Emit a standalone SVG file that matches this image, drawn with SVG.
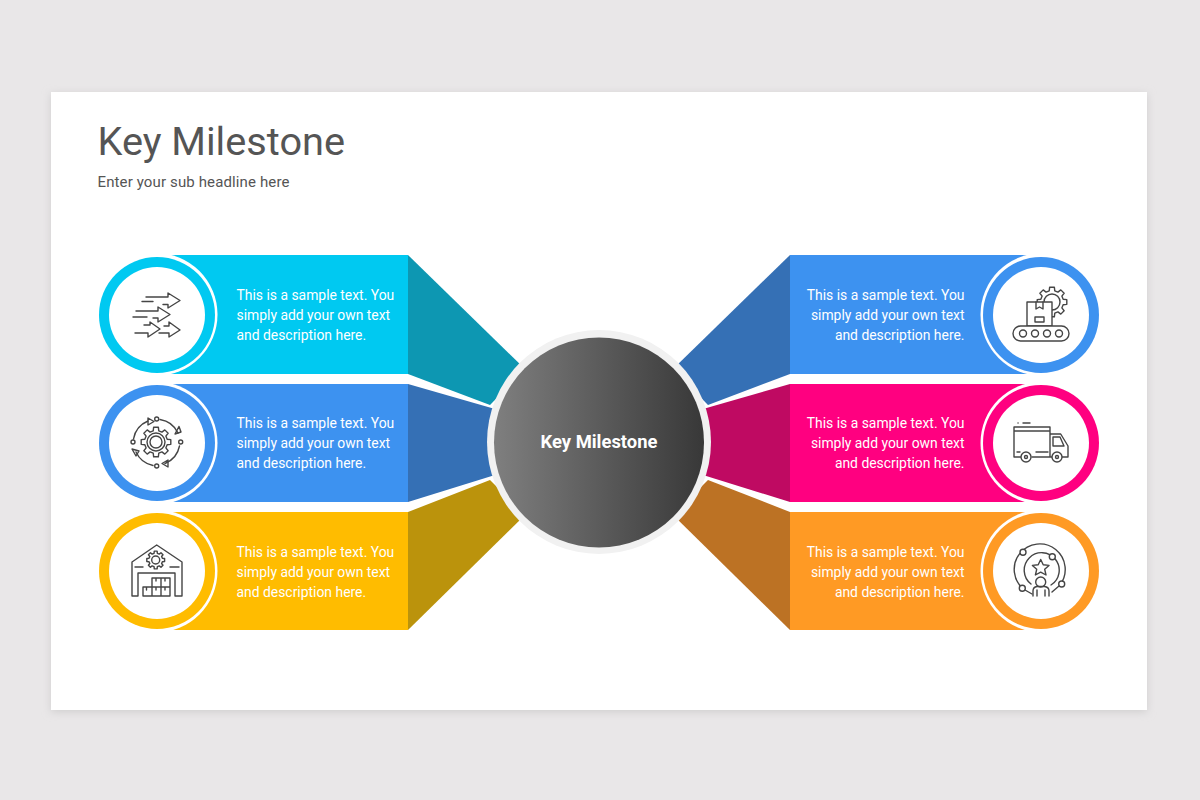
<svg xmlns="http://www.w3.org/2000/svg" width="1200" height="800" viewBox="0 0 1200 800">
<style>
text{font-family:Roboto,"Liberation Sans",sans-serif}
.b{fill:#fff;font-size:13.9px}
.r{text-anchor:end}
.i{fill:none;stroke:#454545;stroke-width:1.4;stroke-linejoin:round;stroke-linecap:round}
.w{fill:#fff}
.f{fill:#fff;stroke:#454545;stroke-width:1.4;stroke-linejoin:round}
</style>
<defs>
<linearGradient id="g" x1="0" x2="1" y1="0" y2="0"><stop offset="0" stop-color="#7f7f7f"/><stop offset="1" stop-color="#383838"/></linearGradient>
<filter id="s" x="-3%" y="-3%" width="106%" height="106%"><feGaussianBlur stdDeviation="4"/></filter>
<path id="gear" d="M11.16-2.78 14.8-2.35 14.8 2.35 11.16 2.78 9.86 5.93 12.13 8.8 8.8 12.13 5.93 9.86 2.78 11.16 2.35 14.8-2.35 14.8-2.78 11.16-5.93 9.86-8.8 12.13-12.13 8.8-9.86 5.93-11.16 2.78-14.8 2.35-14.8-2.35-11.16-2.78-9.86-5.93-12.13-8.8-8.8-12.13-5.93-9.86-2.78-11.16-2.35-14.8 2.35-14.8 2.78-11.16 5.93-9.86 8.8-12.13 12.13-8.8 9.86-5.93Z"/>
</defs>
<rect width="1200" height="800" fill="#e9e7e8"/>
<rect x="51" y="94" width="1096" height="618" fill="#cfcdce" filter="url(#s)"/>
<rect x="51" y="92" width="1096" height="618" fill="#fff"/>
<text x="97.500" y="155" font-size="39.700" fill="#555">Key Milestone</text>
<text x="97.500" y="187" font-size="15" letter-spacing=".13" fill="#555">Enter your sub headline here</text>

<g id="connectors">
<polygon points="408,255 525,369 490,405 408,374" fill="#0d97b2"/>
<polygon points="408,384 495,409 495,475 408,502" fill="#3570b5"/>
<polygon points="408,630 525,515 490,480 408,512" fill="#bb930c"/>
<polygon points="790,255 673,369 708,405 790,374" fill="#3570b5"/>
<polygon points="790,384 703,409 703,475 790,502" fill="#bf0a62"/>
<polygon points="790,630 673,515 708,480 790,512" fill="#bc7224"/>
</g>

<g id="node-1">
<rect x="170" y="255" width="238" height="119" fill="#00c9f1"/>
<circle cx="156" cy="314.500" r="61.500" class="w"/>
<circle cx="157" cy="315" r="58" fill="#00c9f1"/>
<circle cx="157" cy="315" r="48" class="w"/>
<path class="i" d="M146,297H168V293L180,300.500 168,308V304.500H163M142,301.500H153M136,311H158V307L170,314.500 158,322V318H153M133,317H147M144,325H150V322L160,329 148,337V333H135M159,333H169V337L180,330 169,322V326H164"/>
<text class="b" x="236.500" y="300">This is a sample text. You</text>
<text class="b" x="236.500" y="320">simply add your own text</text>
<text class="b" x="236.500" y="340">and description here.</text>
</g>

<g id="node-2">
<rect x="170" y="384" width="238" height="118" fill="#3d92f0"/>
<circle cx="156" cy="443" r="61.500" class="w"/>
<circle cx="157" cy="443" r="58" fill="#3d92f0"/>
<circle cx="157" cy="443" r="48" class="w"/>
<g class="i">
<use href="#gear" x="156" y="442"/>
<circle cx="156" cy="442" r="9"/><circle cx="156" cy="442" r="6"/>
<circle cx="156.700" cy="419" r="2"/><circle cx="180.700" cy="442" r="2"/><circle cx="156.700" cy="466" r="2"/><circle cx="133" cy="442" r="2"/>
<path d="M133.500,439A24,24 0 0 1 148,421M160,419.500A24,24 0 0 1 178,433M179.500,446A24,24 0 0 1 165,463.500M153,465.500A24,24 0 0 1 136,452"/>
<path d="M148,418 154,421.500 148,425ZM175,434 181,432 179,426.500ZM168,460 162,463.500 168,467ZM132,449 139,451 136,456Z"/>
</g>
<text class="b" x="236.500" y="428">This is a sample text. You</text>
<text class="b" x="236.500" y="448">simply add your own text</text>
<text class="b" x="236.500" y="468">and description here.</text>
</g>

<g id="node-3">
<rect x="170" y="512" width="238" height="118" fill="#ffbc00"/>
<circle cx="156" cy="571" r="61.500" class="w"/>
<circle cx="157" cy="571" r="58" fill="#ffbc00"/>
<circle cx="157" cy="571" r="48" class="w"/>
<g class="i">
<path d="M132,596V562L156.700,545 182,562V596H175V573H138V596ZM135,567H143M170,567H179"/>
<use href="#gear" transform="translate(155.700 560) scale(.6)" stroke-width="2.400"/>
<circle cx="155.700" cy="560" r="4"/>
<path d="M143,596V587H170V596ZM152,587V596M161,587V596M152,587V578H170V587M161,578V587M146.500,587V590M156,587V590M165,587V590M156,578V581M165,578V581"/>
</g>
<text class="b" x="236.500" y="557">This is a sample text. You</text>
<text class="b" x="236.500" y="577">simply add your own text</text>
<text class="b" x="236.500" y="597">and description here.</text>
</g>

<g id="node-4">
<rect x="790" y="255" width="238" height="119" fill="#3d92f0"/>
<circle cx="1042" cy="314.500" r="61.500" class="w"/>
<circle cx="1041" cy="315" r="58" fill="#3d92f0"/>
<circle cx="1041" cy="315" r="48" class="w"/>
<use href="#gear" class="i" x="1052" y="302"/>
<circle cx="1052" cy="302" r="8" class="i"/>
<rect class="f" x="1027" y="302" width="25" height="24"/>
<path class="i" d="M1036,302V309L1039.500,307 1043,309V302M1035,317H1044V322H1035Z"/>
<rect class="f" x="1013" y="326" width="56" height="15" rx="7.500"/>
<g class="i"><circle cx="1023" cy="333.500" r="3.500"/><circle cx="1035" cy="333.500" r="3.500"/><circle cx="1047" cy="333.500" r="3.500"/><circle cx="1059" cy="333.500" r="3.500"/></g>
<text class="b r" x="964.500" y="300">This is a sample text. You</text>
<text class="b r" x="964.500" y="320">simply add your own text</text>
<text class="b r" x="964.500" y="340">and description here.</text>
</g>

<g id="node-5">
<rect x="790" y="384" width="238" height="118" fill="#ff0080"/>
<circle cx="1042" cy="443" r="61.500" class="w"/>
<circle cx="1041" cy="443" r="58" fill="#ff0080"/>
<circle cx="1041" cy="443" r="48" class="w"/>
<g class="i">
<path d="M1021,457H1014V427H1050V457H1032M1014,431H1050M1050,434H1060.700L1068,446V457H1062M1052,457H1034M1053,437H1060L1064,446H1053ZM1018,423H1018.100M1023,423H1030M1017,452H1020M1036,452H1048"/>
<circle cx="1026" cy="457" r="5" fill="#fff"/><circle cx="1026" cy="457" r="1.500"/>
<circle cx="1057" cy="457" r="5" fill="#fff"/><circle cx="1057" cy="457" r="1.500"/>
</g>
<text class="b r" x="964.500" y="428">This is a sample text. You</text>
<text class="b r" x="964.500" y="448">simply add your own text</text>
<text class="b r" x="964.500" y="468">and description here.</text>
</g>

<g id="node-6">
<rect x="790" y="512" width="238" height="118" fill="#ff9a24"/>
<circle cx="1042" cy="571" r="61.500" class="w"/>
<circle cx="1041" cy="571" r="58" fill="#ff9a24"/>
<circle cx="1041" cy="571" r="48" class="w"/>
<g class="i">
<path d="M1059.500,585.500A25.500,25.500 0 1 0 1024,589.500M1031,584A17.500,17.500 0 1 1 1051,585M1025,590 1032,594M1059,586 1052,592"/>
<circle cx="1023" cy="552.300" r="3" fill="#fff"/><circle cx="1052.300" cy="556.700" r="3" fill="#fff"/><circle cx="1022.300" cy="588.300" r="3" fill="#fff"/><circle cx="1061.700" cy="584" r="3" fill="#fff"/>
<path d="M1040.700,559.500 1043.200,564.800 1049,565.400 1044.700,569.300 1046,575 1040.700,572.100 1035.400,575 1036.700,569.300 1032.400,565.400 1038.200,564.800Z"/>
<circle cx="1040.700" cy="582" r="5"/>
<path d="M1033,596V591Q1033,587 1037,586.500H1044.500Q1049,587 1049,591V596M1037,596V590M1045,596V590"/>
</g>
<text class="b r" x="964.500" y="557">This is a sample text. You</text>
<text class="b r" x="964.500" y="577">simply add your own text</text>
<text class="b r" x="964.500" y="597">and description here.</text>
</g>

<g id="center">
<circle cx="599" cy="442" r="112" fill="#f1f1f1"/>
<circle cx="599" cy="442.500" r="105" fill="url(#g)"/>
<text x="599" y="448" font-size="18.400" font-weight="700" fill="#fff" text-anchor="middle">Key Milestone</text>
</g>
</svg>
